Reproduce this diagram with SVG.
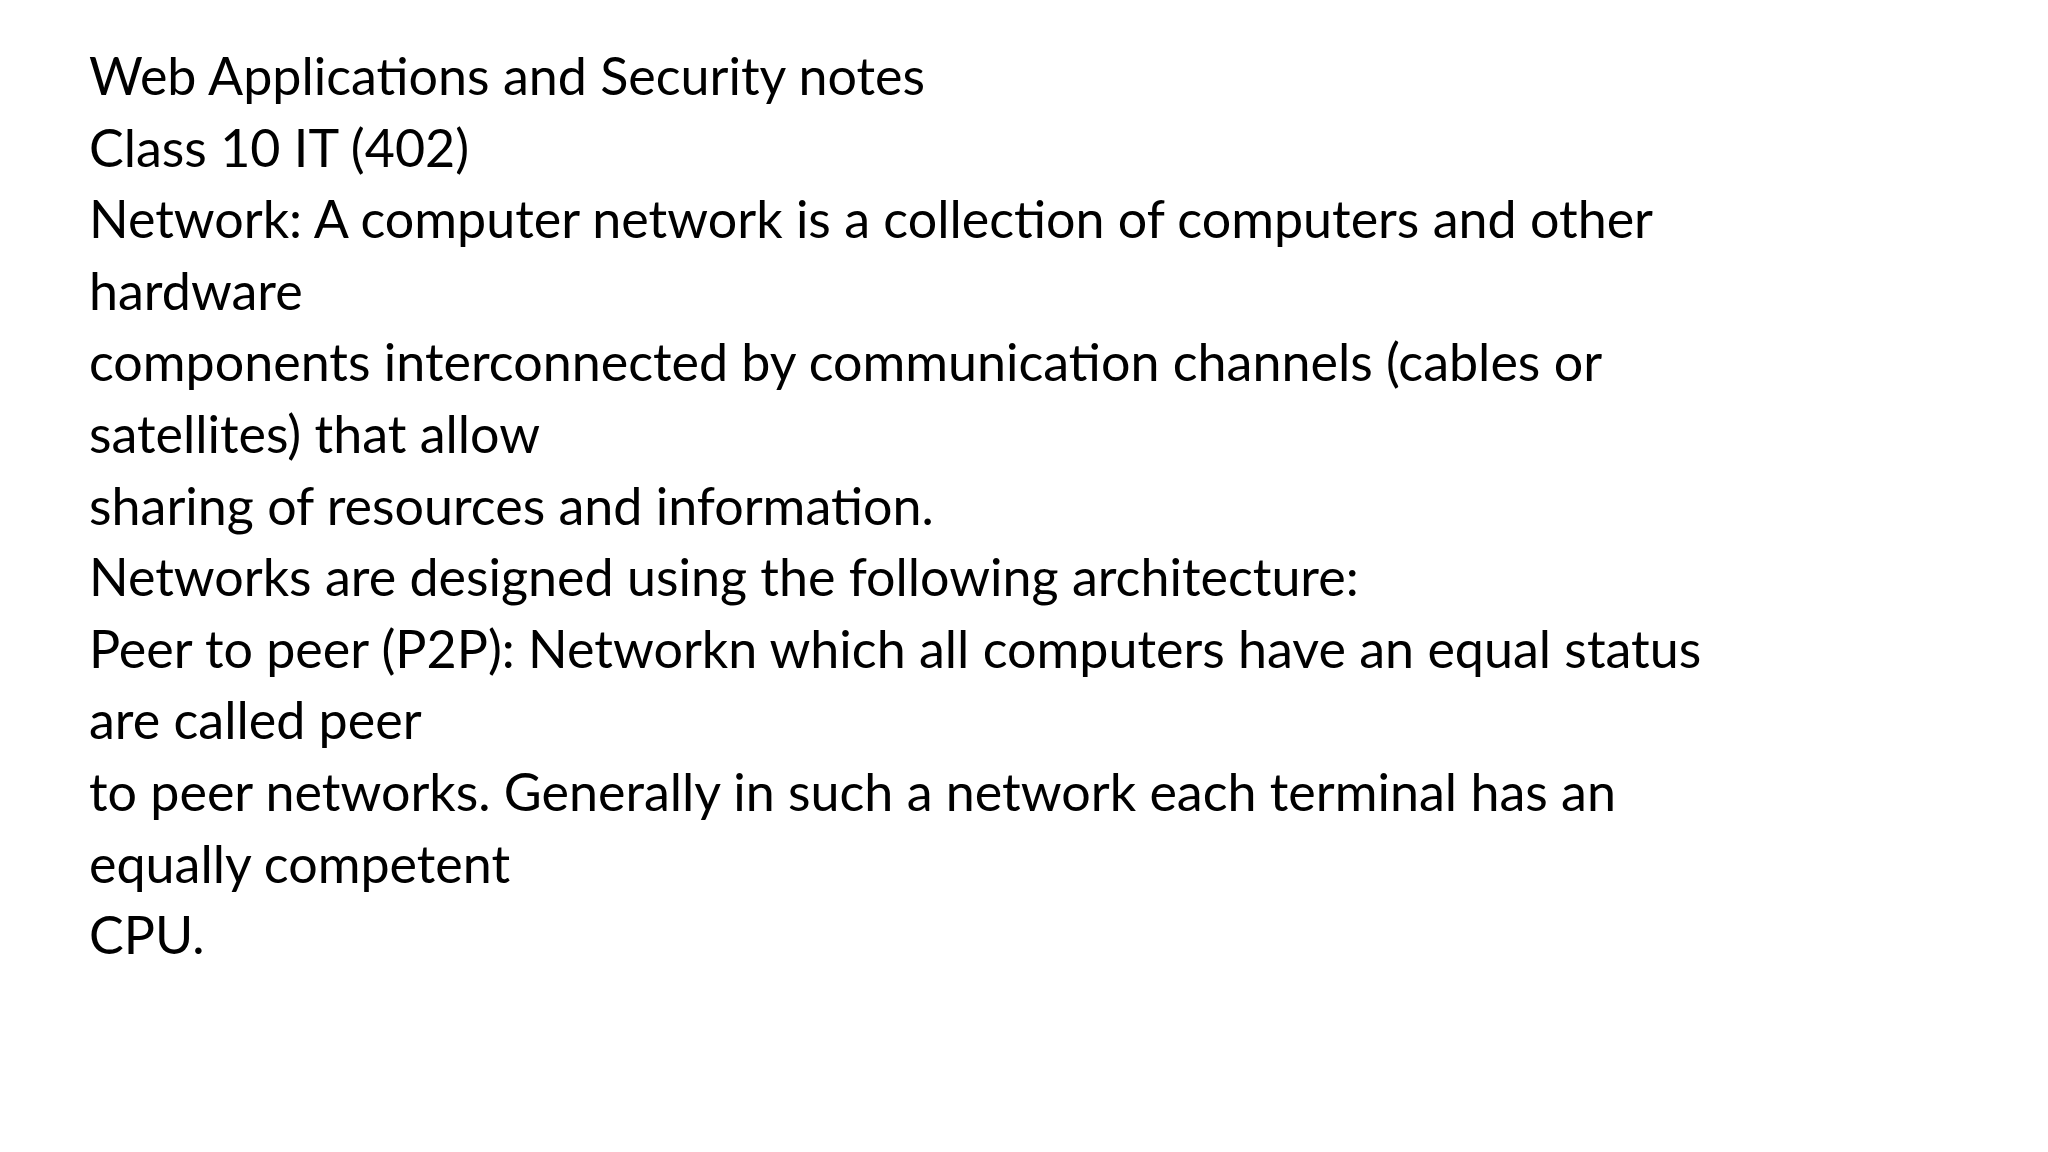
<svg xmlns="http://www.w3.org/2000/svg" width="2048" height="1152" viewBox="0 0 2048 1152">
<style>text{font-family:Lato,"Open Sans",sans-serif;font-size:52px;fill:#000}</style>
<rect width="2048" height="1152" fill="#fff"/>
<g id="notes">
<text x="89" y="95">Web Applications and Security notes</text>
<text x="89" y="167">Class 10 IT (402)</text>
<text x="89" y="238">Network: A computer network is a collection of computers and other</text>
<text x="89" y="310">hardware</text>
<text x="89" y="381">components interconnected by communication channels (cables or</text>
<text x="89" y="453">satellites) that allow</text>
<text x="89" y="525">sharing of resources and information.</text>
<text x="89" y="596">Networks are designed using the following architecture:</text>
<text x="89" y="668">Peer to peer (P2P): Networkn which all computers have an equal status</text>
<text x="89" y="739">are called peer</text>
<text x="89" y="811">to peer networks. Generally in such a network each terminal has an</text>
<text x="89" y="883">equally competent</text>
<text x="89" y="954">CPU.</text>
</g>
</svg>
